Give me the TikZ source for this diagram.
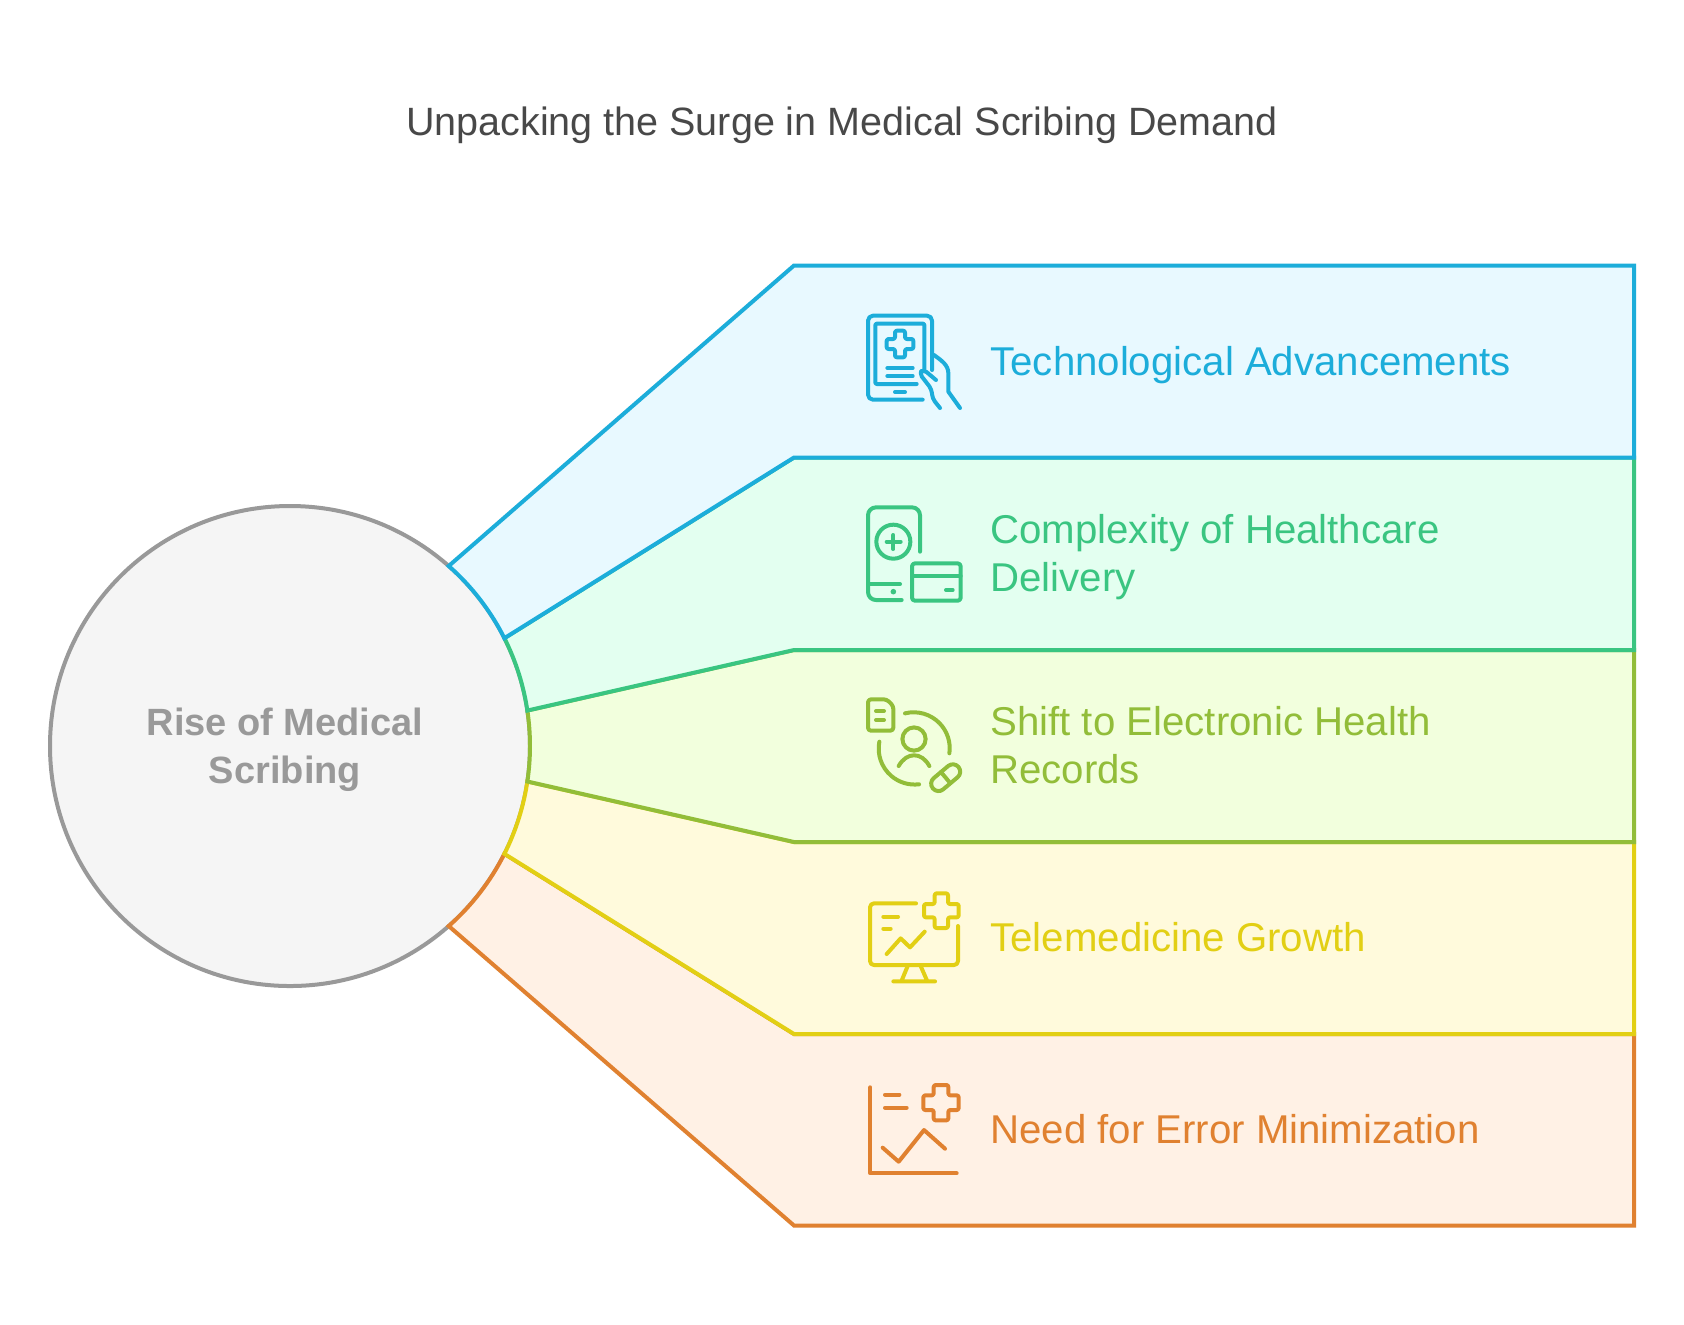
\documentclass[tikz,border=0pt]{standalone}
\usepackage{fontspec}
\setmainfont{Liberation Sans}
\usetikzlibrary{calc}
\definecolor{cA}{HTML}{1CADDA}\definecolor{fA}{HTML}{E8F9FF}
\definecolor{cB}{HTML}{3AC581}\definecolor{fB}{HTML}{E3FFF0}
\definecolor{cC}{HTML}{92BD39}\definecolor{fC}{HTML}{F2FFDD}
\definecolor{cD}{HTML}{E2CF14}\definecolor{fD}{HTML}{FFFADC}
\definecolor{cE}{HTML}{E08130}\definecolor{fE}{HTML}{FFF1E5}
\definecolor{gr}{HTML}{999999}\definecolor{circ}{HTML}{F5F5F5}\definecolor{ttl}{HTML}{484848}
\tikzset{
  band/.style={line width=2pt,miter limit=10,line join=miter},
  lab/.style={anchor=west,align=left,inner sep=0pt,font=\fontsize{20.1}{24}\selectfont},
  ico/.style={line width=2pt,line cap=round,line join=round},
  iconscope/.style={x=0.16667pt,y=-0.16667pt}
}
\newcommand{\plusat}[5][]{% cross: centre x, y, half-extent, half-width
  \draw[ico,rounded corners=1pt,#1] ({#2-#5},{#3-#4}) -- ({#2+#5},{#3-#4}) -- ({#2+#5},{#3-#5}) -- ({#2+#4},{#3-#5}) -- ({#2+#4},{#3+#5}) -- ({#2+#5},{#3+#5}) -- ({#2+#5},{#3+#4}) -- ({#2-#5},{#3+#4}) -- ({#2-#5},{#3+#5}) -- ({#2-#4},{#3+#5}) -- ({#2-#4},{#3-#5}) -- ({#2-#5},{#3-#5}) -- cycle;}
\begin{document}
\begin{tikzpicture}[x=0.5pt,y=-0.5pt]
\useasboundingbox[fill=white] (0,0) rectangle (1684,1324);
\coordinate (c) at (290,746);
\node[circle,draw=gr,fill=circ,line width=2pt,minimum size=240pt,inner sep=0pt] (hub) at (c) {};
\foreach \n/\a in {1/48.6,2/26.7,3/8.5,4/-8.5,5/-26.7,6/-48.6}
  \coordinate (j\n) at ($(c)+(\a:120pt)$);
\coordinate (y0) at (794,265.5);\coordinate (z0) at (1634,265.5);
\coordinate (y1) at (794,457.5);\coordinate (z1) at (1634,457.5);
\coordinate (y2) at (794,650);\coordinate (z2) at (1634,650);
\coordinate (y3) at (794,842);\coordinate (z3) at (1634,842);
\coordinate (y4) at (794,1034);\coordinate (z4) at (1634,1034);
\coordinate (y5) at (794,1225.5);\coordinate (z5) at (1634,1225.5);
\draw[band,draw=cE,fill=fE] (j5)--(y4)--(z4)--(z5)--(y5)--(j6) arc[start angle=-48.6,end angle=-26.7,radius=120pt]--cycle;
\draw[band,draw=cD,fill=fD] (j4)--(y3)--(z3)--(z4)--(y4)--(j5) arc[start angle=-26.7,end angle=-8.5,radius=120pt]--cycle;
\draw[band,draw=cC,fill=fC] (j3)--(y2)--(z2)--(z3)--(y3)--(j4) arc[start angle=-8.5,end angle=8.5,radius=120pt]--cycle;
\draw[band,draw=cB,fill=fB] (j2)--(y1)--(z1)--(z2)--(y2)--(j3) arc[start angle=8.5,end angle=26.7,radius=120pt]--cycle;
\draw[band,draw=cA,fill=fA] (j1)--(y0)--(z0)--(z1)--(y1)--(j2) arc[start angle=26.7,end angle=48.6,radius=120pt]--cycle;

\node[anchor=center,inner sep=0pt,text=ttl,font=\fontsize{19.75}{24}\selectfont] (title) at (842,126) {\strut Unpacking the Surge in Medical Scribing Demand};
\node[anchor=center,align=center,inner sep=0pt,text=gr,font=\fontsize{19}{24}\selectfont\bfseries] (hubtext) at (285,750) {\strut Rise of Medical\\\strut Scribing};
\node[lab,text=cA] (t1) at (990,366) {\strut Technological Advancements};
\node[lab,text=cB] (t2) at (990,558) {\strut Complexity of Healthcare\\\strut Delivery};
\node[lab,text=cC] (t3) at (990,750) {\strut Shift to Electronic Health\\\strut Records};
\node[lab,text=cD] (t4) at (990,942) {\strut Telemedicine Growth};
\node[lab,text=cE] (t5) at (990,1134) {\strut Need for Error Minimization};

% icon 1
\begin{scope}[shift={(840,290)},iconscope,cA]
\draw[ico,rounded corners=2.5pt] (248,329)--(84,329)--(84,77)--(276,77)--(276,240);
\draw[ico,rounded corners=.6pt] (230,282)--(106,282)--(106,101)--(253,101)--(253,238);
\plusat[cA]{180}{162}{40}{15}
\draw[ico] (142,234)--(218,234) (142,258)--(218,258) (165,306)--(195,306);
\draw[ico] (282,195) .. controls (305,212) and (325,225) .. (325,250) -- (325,305) -- (360,354);
\draw[ico,rounded corners=2pt] (288,270)--(250,238)--(238,250)--(275,298)--(277,325)--(300,354);
\end{scope}
% icon 2
\begin{scope}[shift={(840,290)},iconscope,cB]
\draw[ico,rounded corners=4pt] (240,785)--(240,652)--(84,652)--(84,930)--(185,930);
\draw[ico] (84,882)--(180,882);
\fill (160,905) circle[radius=1.4pt];
\draw[ico] (160,755) circle[radius=8.5pt];
\draw[ico] (140,755)--(182,755) (160,735)--(160,777);
\draw[ico,rounded corners=1.5pt] (216,820) rectangle (362,932);
\draw[ico] (216,858)--(362,858) (318,900)--(338,900);
\end{scope}
% icon 3
\begin{scope}[shift={(840,680)},iconscope,cC]
\draw[ico,rounded corners=1.5pt] (84,58)--(140,58)--(160,78)--(160,152)--(84,152)--cycle;
\draw[ico] (108,93)--(132,93) (108,120)--(132,120);
\draw[ico] (195,100) arc[start angle=104,end angle=-8,radius=18pt];
\draw[ico] (118,185) arc[start angle=169,end angle=277,radius=18pt];
\draw[ico] (222,177) circle[radius=5.8pt];
\draw[ico] (176,258) .. controls (200,215) and (245,215) .. (268,258);
\begin{scope}[shift={(317,293)},rotate=40]
\draw[ico,rounded corners=3.6pt] (-50,-22) rectangle (50,22);
\draw[ico] (0,-22)--(0,22);
\end{scope}
\end{scope}
% icon 4
\begin{scope}[shift={(840,870)},iconscope,cD]
\draw[ico,rounded corners=2pt] (228,100)--(90,100)--(90,285)--(354,285)--(354,168);
\draw[ico] (130,140)--(174,140) (130,176)--(152,176);
\draw[ico] (140,252)--(182,205)--(210,232)--(254,185);
\draw[ico] (203,288)--(184,334) (242,288)--(262,334) (160,334)--(285,334);
\plusat[cD]{304}{122}{52}{20}
\end{scope}
% icon 5
\begin{scope}[shift={(840,870)},iconscope,cE]
\draw[ico] (91,652)--(91,910)--(350,910);
\draw[ico] (135,674)--(178,674) (135,713)--(200,713);
\draw[ico] (128,833)--(176,875)--(252,780)--(315,836);
\plusat[cE]{303}{698}{53}{22}
\end{scope}
\end{tikzpicture}
\end{document}
